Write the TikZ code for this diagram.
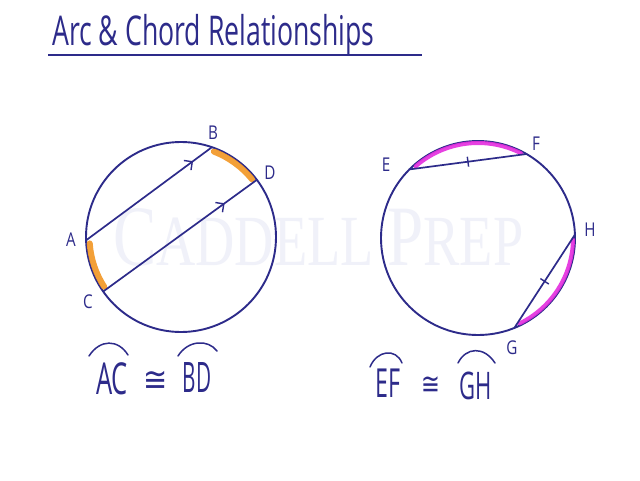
\documentclass[tikz,border=0pt]{standalone}
\usepackage{fontspec}
\setmainfont{Open Sans}
\newfontfamily\symfont{DejaVu Sans}
\newfontfamily\wmfont{Liberation Serif}
\usetikzlibrary{calc,arrows.meta,decorations.markings}
\definecolor{ink}{RGB}{45,43,138}
\definecolor{hlorange}{RGB}{242,150,35}
\definecolor{hlmag}{RGB}{228,45,222}
\definecolor{wmcol}{RGB}{240,241,249}
\tikzset{
  circ/.style={draw=ink, line width=1.9pt},
  chord/.style={draw=ink, line width=1.7pt},
  lbl/.style={text=ink, font=\fontsize{19}{19}\selectfont, inner sep=0pt, xscale=0.8},
  eqtxt/.style={text=ink, inner sep=0pt, xscale=0.58},
  hat/.style={draw=ink, line width=1.5pt, line cap=round},
  chevron/.style={postaction={decorate, decoration={markings,
     mark=at position #1 with {\arrow[ink, line width=1.4pt]{Straight Barb[length=6pt,width=12pt]}}}}},
  tick/.style={postaction={decorate, decoration={markings,
     mark=at position 0.5 with {\draw[ink, line width=1.4pt] (0,-5pt) -- (0,5pt);}}}}
}
\begin{document}
\begin{tikzpicture}[x=1pt,y=-1pt]
\useasboundingbox (0,0) rectangle (640,480);
\fill[white] (0,0) rectangle (640,480);

% watermark
\node[text=wmcol, inner sep=0pt, anchor=base west, xscale=0.755] (wmark) at (113,265)
  {\wmfont\fontsize{86}{86}\selectfont C\fontsize{72}{72}\selectfont ADDELL \fontsize{86}{86}\selectfont P\fontsize{72}{72}\selectfont REP};

% title
\node[text=ink, inner sep=0pt, anchor=base west, xscale=0.65, font=\fontsize{41}{41}\selectfont] (title) at (52,45) {Arc \& Chord Relationships};
\coordinate (ulL) at (48,55);
\coordinate (ulR) at (422,55);
\draw[ink, line width=1.8pt] (ulL) -- (ulR);

% left circle
\coordinate (O1) at (181,237);
\draw[circ] (O1) circle[radius=95pt];
\coordinate (A) at ($(O1)+(182:95pt)$);
\coordinate (B) at ($(O1)+(71:95pt)$);
\coordinate (C) at ($(O1)+(215:95pt)$);
\coordinate (D) at ($(O1)+(37:95pt)$);
\draw[hlorange, line width=6pt, line cap=round, opacity=0.9] ($(O1)+(184:91.5pt)$) arc[start angle=184, end angle=213, radius=91.5pt];
\draw[hlorange, line width=6pt, line cap=round, opacity=0.9] ($(O1)+(69:91.5pt)$) arc[start angle=69, end angle=39, radius=91.5pt];
\draw[chord, chevron=0.85] (A) -- (B);
\draw[chord, chevron=0.79] (C) -- (D);
\node[lbl] (lA) at (71,240) {A};
\node[lbl] (lB) at (213,133) {B};
\node[lbl] (lC) at (88,302) {C};
\node[lbl] (lD) at (270,173) {D};

% right circle
\coordinate (O2) at (478,238);
\draw[circ] (O2) circle[radius=97pt];
\coordinate (E) at ($(O2)+(135:97pt)$);
\coordinate (F) at ($(O2)+(60:97pt)$);
\coordinate (H) at ($(O2)+(2:97pt)$);
\coordinate (G) at ($(O2)+(-68:97pt)$);
\draw[hlmag, line width=4pt, line cap=round, opacity=0.9] ($(O2)+(131:95pt)$) arc[start angle=131, end angle=63, radius=95pt];
\draw[hlmag, line width=4pt, line cap=round, opacity=0.9] ($(O2)+(-1:95pt)$) arc[start angle=-1, end angle=-64, radius=95pt];
\draw[chord, tick] (E) -- (F);
\draw[chord, tick] (G) -- (H);
\node[lbl] (lE) at (386,165) {E};
\node[lbl] (lF) at (536,144) {F};
\node[lbl] (lH) at (590,230) {H};
\node[lbl] (lG) at (512,348) {G};

% left congruence
\node[eqtxt, font=\fontsize{44}{44}\selectfont] (tAC) at (112,379) {AC};
\node[text=ink, inner sep=0pt, xscale=0.85, font=\symfont\fontsize{34}{34}\selectfont] (cong1) at (156,381) {≅};
\node[eqtxt, font=\fontsize{42}{42}\selectfont, xscale=0.85] (tBD) at (197,378) {BD};
\draw[hat] (89,356) .. controls (100,339) and (118,339) .. (128,355);
\draw[hat] (178,356) .. controls (188,340) and (208,339) .. (217,351);

% right congruence
\node[eqtxt, font=\fontsize{40}{40}\selectfont] (tEF) at (388,383) {EF};
\node[text=ink, inner sep=0pt, xscale=0.75, font=\symfont\fontsize{30}{30}\selectfont] (cong2) at (431,386) {≅};
\node[eqtxt, font=\fontsize{38}{38}\selectfont] (tGH) at (476,386) {GH};
\draw[hat] (370,367) .. controls (377,350) and (396,348) .. (402,363);
\draw[hat] (458,363) .. controls (466,347) and (484,346) .. (495,363);
\end{tikzpicture}
\end{document}
